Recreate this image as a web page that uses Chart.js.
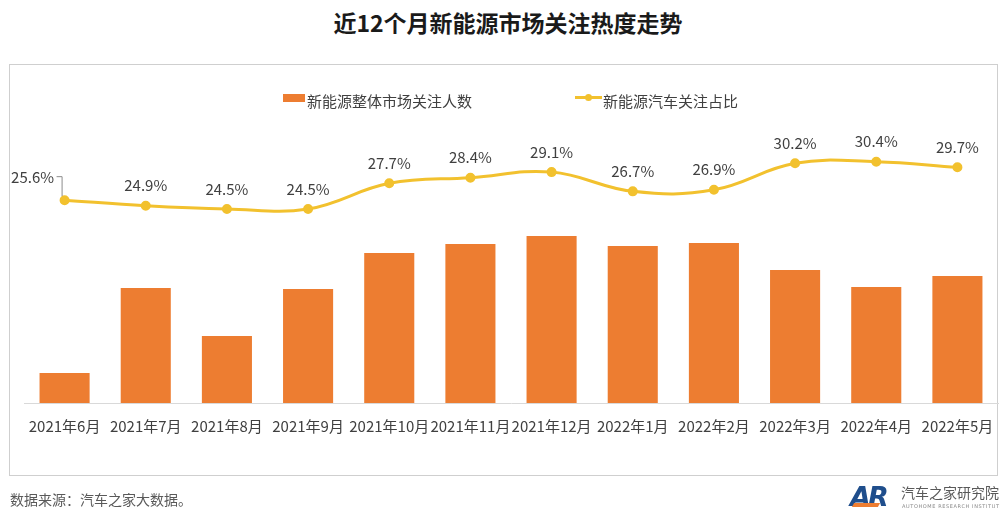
<!DOCTYPE html>
<html>
<head>
<meta charset="utf-8">
<script src="https://cdn.jsdelivr.net/npm/chart.js@4.4.1/dist/chart.umd.min.js"></script>
<style>
  body { margin: 0; width: 1000px; height: 516px; background: #fff; position: relative; overflow: hidden;
         font-family: "Noto Sans CJK SC", "Noto Sans", sans-serif; color: #404040; }
  .title { position: absolute; left: 0; top: 8px; width: 1016px; text-align: center;
           font-size: 23px; line-height: 28px; font-weight: bold; color: #1a1a1a; }
  .frame { position: absolute; left: 9px; top: 64px; width: 987px; height: 410px; border: 1px solid #cfcfcf; }
  #wrap { position: absolute; left: 0; top: 0; width: 1000px; height: 516px; }
  .lg { position: absolute; font-size: 15px; line-height: 18px; color: #404040; white-space: nowrap; }
  .lg-bar { position: absolute; left: 283px; top: 94px; width: 22px; height: 8px; background: #ED7D31; }
  .lg-line { position: absolute; left: 575px; top: 96px; width: 27px; height: 3px; background: #F2C12E; }
  .lg-dot { position: absolute; left: 585px; top: 94px; width: 7px; height: 7px; border-radius: 50%; background: #F2C12E; }
  .src { position: absolute; left: 10px; top: 489px; font-size: 14px; line-height: 20px; color: #595959; }
  .logo { position: absolute; left: 850px; top: 482px; width: 48px; height: 30px; font-size: 27px; line-height: 30px;
          font-weight: bold; font-style: italic; color: #1f4e8c; letter-spacing: -3px; font-family: "DejaVu Sans", sans-serif; }
  .logo i { position: absolute; left: 3px; top: 21px; width: 26px; height: 4px; background: #ED7D31; transform: skewX(-30deg); }
  .logo-t { position: absolute; left: 901px; top: 484px; font-size: 14px; line-height: 17px; color: #595959; white-space: nowrap; }
  .logo-s { position: absolute; left: 902px; top: 503px; font-size: 5px; line-height: 6px; color: #888; letter-spacing: 0.6px;
            white-space: nowrap; font-family: "DejaVu Sans", sans-serif; }
</style>
</head>
<body>
<div class="title">近12个月新能源市场关注热度走势</div>
<div class="frame"></div>
<div id="wrap"><canvas id="c" width="1000" height="516"></canvas></div>

<div class="lg-bar"></div>
<div class="lg" style="left:307px;top:92px;">新能源整体市场关注人数</div>
<div class="lg-line"></div>
<div class="lg-dot"></div>
<div class="lg" style="left:603px;top:92px;">新能源汽车关注占比</div>

<div class="src">数据来源：汽车之家大数据。</div>
<div class="logo">AR<i></i></div>
<div class="logo-t">汽车之家研究院</div>
<div class="logo-s">AUTOHOME RESEARCH INSTITUTE</div>

<script>
// ---------------------------------------------------------------
// Données
// ---------------------------------------------------------------
const months = ["2021年6月", "2021年7月", "2021年8月", "2021年9月", "2021年10月", "2021年11月",
                "2021年12月", "2022年1月", "2022年2月", "2022年3月", "2022年4月", "2022年5月"];

// 关注人数 : indice relatif (aucune échelle visible sur l'image)
const attention = [10.6, 40.6, 23.7, 40.3, 53.0, 56.2, 59.0, 55.5, 56.5, 47.0, 41.0, 44.9];

// 关注占比 (%)
const share = [25.6, 24.9, 24.5, 24.5, 27.7, 28.4, 29.1, 26.7, 26.9, 30.2, 30.4, 29.7];

const ORANGE = "#ED7D31";
const GOLD = "#F2C12E";

// ---------------------------------------------------------------
// Étiquettes de valeur au-dessus de la courbe
// ---------------------------------------------------------------
const shareLabels = {
  id: "shareLabels",
  afterDatasetsDraw(chart) {
    const meta = chart.getDatasetMeta(1);
    const ctx = chart.ctx;
    ctx.save();
    ctx.font = '15px "Noto Sans CJK SC", "Noto Sans", sans-serif';
    ctx.fillStyle = "#404040";
    ctx.textAlign = "center";
    ctx.textBaseline = "middle";
    meta.data.forEach((pt, i) => {
      const txt = share[i].toFixed(1) + "%";
      if (i === 0) {
        // premier label décalé à gauche avec trait de rappel
        ctx.fillText(txt, pt.x - 32, pt.y - 23);
        ctx.strokeStyle = "#8c8c8c";
        ctx.lineWidth = 1;
        ctx.beginPath();
        ctx.moveTo(pt.x - 8, pt.y - 23.5);
        ctx.lineTo(pt.x - 2.5, pt.y - 23.5);
        ctx.lineTo(pt.x - 2.5, pt.y - 4);
        ctx.stroke();
      } else {
        ctx.fillText(txt, pt.x, pt.y - 20);
      }
    });
    ctx.restore();
  }
};

new Chart(document.getElementById("c"), {
  type: "bar",
  data: {
    labels: months,
    datasets: [
      {
        label: "新能源整体市场关注人数",
        data: attention,
        backgroundColor: ORANGE,
        categoryPercentage: 1,
        barPercentage: 0.617,
        yAxisID: "y",
        order: 1
      },
      {
        type: "line",
        label: "新能源汽车关注占比",
        data: share,
        borderColor: GOLD,
        backgroundColor: GOLD,
        borderWidth: 3,
        pointRadius: 3.5,
        pointHoverRadius: 3.5,
        tension: 0.4,
        yAxisID: "y1",
        order: 0
      }
    ]
  },
  options: {
    responsive: false,
    animation: false,
    layout: { autoPadding: false, padding: { left: 24, right: 2, top: 120, bottom: 0 } },
    plugins: {
      legend: { display: false },
      tooltip: { enabled: false }
    },
    scales: {
      x: {
        grid: { display: false, drawTicks: false },
        border: { display: true, color: "#d9d9d9", width: 1 },
        ticks: {
          autoSkip: false,
          maxRotation: 0,
          minRotation: 0,
          padding: 14,
          color: "#404040",
          font: { size: 15, family: '"Noto Sans CJK SC", "Noto Sans", sans-serif' }
        },
        afterFit(scale) {
          scale.height = 113;
          scale.paddingLeft = 0;
          scale.paddingRight = 0;
        }
      },
      y: { display: false, min: 0, max: 100 },
      y1: { display: false, min: 0.3, max: 35.6 }
    }
  },
  plugins: [shareLabels]
});
</script>
</body>
</html>
